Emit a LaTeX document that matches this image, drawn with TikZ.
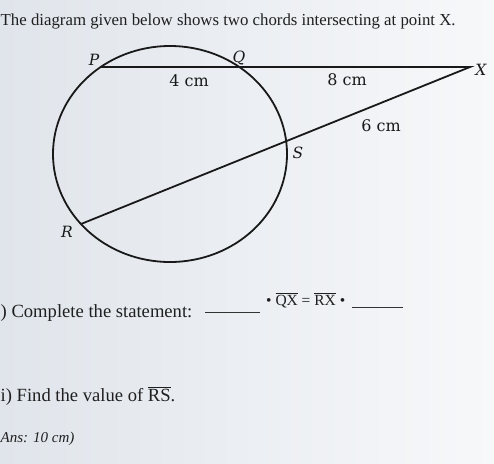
\documentclass[tikz,border=0pt]{standalone}
\usepackage{fontspec}
\setmainfont{Liberation Serif}
\newfontfamily\lblfont{DejaVu Serif}
\usetikzlibrary{intersections}
\newcommand\ovl[1]{$\overline{\hbox{#1}}$}
\tikzset{
  geo/.style={line width=1.8pt, draw=black!90},
  ptlabel/.style={font=\lblfont\itshape\fontsize{15.5}{18}\selectfont, inner sep=0pt, text=black!90},
  meas/.style={font=\lblfont\fontsize{16}{18}\selectfont, inner sep=0pt, text=black!90},
  body/.style={font=\fontsize{18.6}{22}\selectfont, inner sep=0pt, anchor=base west, text=black!88},
  titletext/.style={font=\fontsize{16.8}{20}\selectfont, inner sep=0pt, anchor=base west, text=black!88},
  blank/.style={line width=0.8pt, draw=black!80}
}
\begin{document}
\begin{tikzpicture}[x=1pt,y=-1pt]
\useasboundingbox (0,0) rectangle (494,463);
\shade[left color={rgb,255:red,224;green,229;blue,235}, right color={rgb,255:red,247;green,248;blue,250}] (0,0) rectangle (494,463);

% circle and chords
\draw[geo, name path=circ] (170,154) ellipse [x radius=117, y radius=108];
\coordinate (X) at (470,67);
\path[name path=lineP] (X) -- (20,67);
\path[name intersections={of=circ and lineP, sort by=lineP, by={Q,P}}];
\path[name path=lineR] (X) -- (-33,270);
\path[name intersections={of=circ and lineR, sort by=lineR, by={S,R}}];
\draw[geo] (P) -- (X) -- (R);

% point labels
\node[ptlabel] (Pl) at (94,60) {P};
\node[ptlabel] (Ql) at (239,58) {Q};
\node[ptlabel] (Xl) at (481,70) {X};
\node[ptlabel] (Sl) at (298,153) {S};
\node[ptlabel] (Rl) at (67,232) {R};

% measures
\node[meas] (m4) at (189,81) {4 cm};
\node[meas] (m8) at (347,80) {8 cm};
\node[meas] (m6) at (381,126) {6 cm};

% texts
\node[titletext] (title) at (0.5,25) {The diagram given below shows two chords intersecting at point X.};
\node[body] (qa) at (0.5,317) {) Complete the statement:};
\draw[blank] (205,312) -- (260,312);
\node[body, font=\fontsize{15.5}{18}\selectfont] (eq) at (266,305) {\textbullet\ \ovl{QX} = \ovl{RX} \textbullet};
\draw[blank] (352,307) -- (403,307);
\node[body] (qb) at (0.5,401) {i) Find the value of \ovl{RS}.};
\node[body, font=\itshape\fontsize{15}{18}\selectfont] (ans) at (0.5,442) {Ans: 10 cm)};
\end{tikzpicture}
\end{document}
